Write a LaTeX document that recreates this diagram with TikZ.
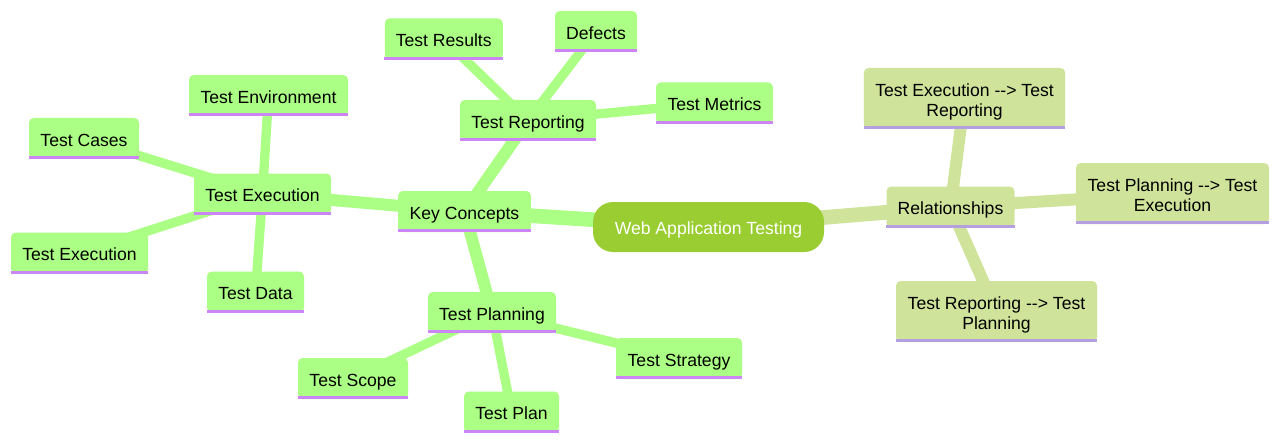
\documentclass[tikz,border=0pt]{standalone}
\usepackage{fontspec}
\setmainfont{Liberation Sans}
\usetikzlibrary{backgrounds}
\definecolor{rootgreen}{HTML}{9ACD32}
\definecolor{leafgreen}{HTML}{ABFF84}
\definecolor{leafline}{HTML}{CC85F5}
\definecolor{relgreen}{HTML}{CFE39A}
\definecolor{relline}{HTML}{B49FE0}
\def\lowerlines{\rule{0pt}{14.6pt}}
\tikzset{
	leafbox/.style={fill=leafgreen, rounded corners=3.5pt, inner sep=0pt, align=center, font=\fontsize{13.2pt}{15pt}\selectfont,
		execute at begin node={\rule{0pt}{14.6pt}}, execute at end node={\rule[-2.8pt]{0pt}{2.8pt}}},
	relbox/.style={leafbox, fill=relgreen},
	rootbox/.style={leafbox, fill=rootgreen, text=white, rounded corners=15pt},
	wide/.style={line width=11pt},
	mid/.style={line width=9pt},
	thin/.style={line width=7pt}
}
\begin{document}
\begin{tikzpicture}[x=0.75pt, y=-0.75pt]
		\useasboundingbox (0, 0) rectangle (1280, 442);
		%%%%% NODES %%%%%
		\node[rootbox, minimum width=173.25pt, minimum height=37.5pt] (root) at (708.5, 227) {Web Application Testing};
		\node[leafbox, minimum width=99.5pt, minimum height=30.75pt] (key) at (464.5, 211.5) {Key Concepts};
		\node[relbox, minimum width=96pt, minimum height=30.75pt] (rel) at (950.5, 207) {Relationships};
		
		\node[leafbox, minimum width=102pt, minimum height=30.75pt] (reporting) at (528, 120.5) {Test Reporting};
		\node[leafbox, minimum width=88.5pt, minimum height=30.75pt] (results) at (443.75, 39) {Test Results};
		\node[leafbox, minimum width=61.5pt, minimum height=30.75pt] (defects) at (596, 31.5) {Defects};
		\node[leafbox, minimum width=87.75pt, minimum height=30.75pt] (metrics) at (714.5, 103) {Test Metrics};
		
		\node[leafbox, minimum width=102.75pt, minimum height=30.75pt] (execution) at (262.5, 194) {Test Execution};
		\node[leafbox, minimum width=119.25pt, minimum height=30.75pt] (environment) at (268.5, 95.5) {Test Environment};
		\node[leafbox, minimum width=82.5pt, minimum height=30.75pt] (cases) at (84, 138.5) {Test Cases};
		\node[leafbox, minimum width=102.75pt, minimum height=30.75pt] (execleaf) at (79.5, 253) {Test Execution};
		\node[leafbox, minimum width=72.75pt, minimum height=30.75pt] (data) at (255.5, 292) {Test Data};
		
		\node[leafbox, minimum width=96pt, minimum height=30.75pt] (planning) at (492, 312.5) {Test Planning};
		\node[leafbox, minimum width=82.5pt, minimum height=30.75pt] (scope) at (353, 378.5) {Test Scope};
		\node[leafbox, minimum width=71.25pt, minimum height=30.75pt] (plan) at (511.5, 412) {Test Plan};
		\node[leafbox, minimum width=94.5pt, minimum height=30.75pt] (strategy) at (679, 358.5) {Test Strategy};
		
		\node[relbox, minimum width=151pt, minimum height=45.75pt] (relexec) at (964.5, 98.5) {\lowerlines Test Execution -{}-> Test\\Reporting};
		\node[relbox, minimum width=144.75pt, minimum height=45.75pt] (relplan) at (1172.5, 193.5) {\lowerlines Test Planning -{}-> Test\\Execution};
		\node[relbox, minimum width=150.75pt, minimum height=45.75pt] (relrep) at (996.5, 311.5) {\lowerlines Test Reporting -{}-> Test\\Planning};
		
		%%%%% BOTTOM LINES %%%%%
		\foreach \n in {key, reporting, results, defects, metrics, execution, environment, cases, execleaf, data, planning, scope, plan, strategy}
			\fill[leafline] (\n.south west) rectangle ([yshift=2.25pt]\n.south east);
		\foreach \n in {rel, relexec, relplan, relrep}
			\fill[relline] (\n.south west) rectangle ([yshift=2.25pt]\n.south east);
		
		%%%%% CONNECTORS %%%%%
		\begin{scope}[on background layer]
			\draw[wide, leafgreen] (root.center) -- (key.center);
			\draw[wide, relgreen] (root.center) -- (rel.center);
			\foreach \n in {reporting, execution, planning}
				\draw[mid, leafgreen] (key.center) -- (\n.center);
			\foreach \n in {results, defects, metrics}
				\draw[thin, leafgreen] (reporting.center) -- (\n.center);
			\foreach \n in {environment, cases, execleaf, data}
				\draw[thin, leafgreen] (execution.center) -- (\n.center);
			\foreach \n in {scope, plan, strategy}
				\draw[thin, leafgreen] (planning.center) -- (\n.center);
			\foreach \n in {relexec, relplan, relrep}
				\draw[mid, relgreen] (rel.center) -- (\n.center);
		\end{scope}
	\end{tikzpicture}
\end{document}
